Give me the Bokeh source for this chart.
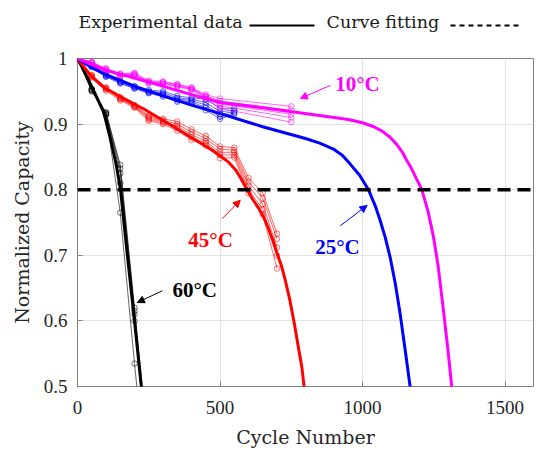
from bokeh.plotting import figure
from bokeh.layouts import column
from bokeh.models import Range1d, FixedTicker, Span, Label, Arrow, NormalHead
from bokeh.embed import file_html
from bokeh.resources import INLINE

# ---------------- data ----------------
# experimental cells, 10 C
cyc_10 = [0, 50, 100, 150, 200, 250, 300, 350, 400, 450, 500, 750]
cells_10 = [
    [1, .995, .985, .977, .978, .966, .965, .961, .956, .945, .939, .927],
    [1, .994, .984, .976, .977, .965, .964, .960, .955, .943, .935, .921],
    [1, .994, .983, .975, .976, .964, .963, .959, .954, .942, .931, .915],
    [1, .993, .982, .974, .975, .963, .962, .958, .953, .941, .928, .910],
    [1, .993, .981, .973, .974, .962, .961, .957, .952, .939, .924, .903],
]
# 25 C
cyc_25 = [0, 50, 100, 150, 200, 250, 300, 350, 400, 450, 500, 550]
cells_25 = [
    [1, .990, .976, .966, .958, .952, .950, .943, .940, .938, .924, .924],
    [1, .989, .975, .965, .957, .950, .948, .940, .938, .933, .919, .921],
    [1, .989, .974, .964, .956, .949, .946, .938, .936, .929, .915, .919],
    [1, .988, .973, .963, .955, .948, .944, .936, .934, .925, .911, .917],
    [1, .987, .972, .962, .954, .947, .942, .934, .932, .921, .908, .915],
]
# 45 C
cyc_45 = [0, 50, 100, 150, 200, 250, 300, 350, 400, 450, 500, 550, 600, 650, 700]
cells_45 = [
    [1, .975, .956, .941, .929, .913, .908, .904, .892, .882, .866, .864, .818, .795, .733],
    [1, .974, .955, .940, .928, .911, .906, .900, .888, .878, .862, .860, .812, .787, .725],
    [1, .973, .954, .939, .927, .909, .904, .897, .884, .874, .857, .857, .806, .778, .712],
    [1, .972, .953, .938, .926, .907, .902, .894, .880, .871, .853, .853, .800, .770, .700],
    [1, .971, .951, .936, .925, .905, .900, .890, .876, .867, .848, .849, .795, .762, .680],
]
# 60 C
cyc_60 = [0, 50, 100, 150, 200, 250]
cells_60 = [
    [1, .954, .918, .838, .620, .40],
    [1, .953, .917, .832, .615, .39],
    [1, .952, .916, .825, .610, .38],
    [1, .951, .915, .810, .600, .37],
    [1, .950, .914, .765, .535, .32],
]

# fitted curves
fit10_x = [0, 92, 250, 400, 501, 650, 817, 900, 950, 1000, 1040, 1070, 1097, 1120, 1140,
           1155, 1170, 1190, 1208, 1230, 1249, 1265, 1284, 1300, 1313, 1325]
fit10_y = [1.0, .983, .964, .945, .933, .925, .915, .910, .907, .902, .896, .889, .880, .869, .857,
           .845, .834, .816, .800, .767, .728, .685, .616, .555, .500, .45]
fit25_x = [0, 50, 92, 200, 300, 400, 501, 650, 800, 850, 898, 930, 957, 990, 1021, 1045,
           1062, 1080, 1097, 1115, 1132, 1150, 1167, 1180]
fit25_y = [1.0, .986, .977, .958, .943, .929, .916, .896, .878, .871, .862, .852, .839, .822, .800, .775,
           .753, .727, .697, .657, .611, .555, .500, .45]
fit45_x = [0, 46, 92, 150, 233, 349, 466, 500, 530, 555, 575, 595, 615, 635, 653, 670, 685,
           700, 715, 729, 745, 760, 775, 787, 795, 805]
fit45_y = [1.0, .974, .956, .942, .923, .893, .862, .852, .842, .830, .816, .800, .785, .772, .758, .741, .723,
           .703, .685, .662, .632, .598, .560, .530, .500, .465]
fit60_x = [0, 30, 60, 92, 116, 135, 151, 175, 200, 224, 236]
fit60_y = [1.0, .975, .948, .918, .877, .840, .800, .700, .600, .500, .45]

threshold = 0.8
x_ticks = [0, 500, 1000, 1500]
y_ticks = [0.5, 0.6, 0.7, 0.8, 0.9, 1.0]
y_tick_labels = ["0.5", "0.6", "0.7", "0.8", "0.9", "1"]

MAG, BLU, RED, BLK = "#ff00ff", "#0000ff", "#ff0000", "#000000"

# ---------------- header strip (legend text) ----------------
# its frame spans page pixels 77..533 horizontally and 0..40 vertically
top = figure(width=550, height=40, output_backend="svg", toolbar_location=None,
             x_range=Range1d(77, 533), y_range=Range1d(40, 0),
             x_axis_type=None, y_axis_type=None,
             min_border_left=77, min_border_right=17, min_border_top=0, min_border_bottom=0)
top.outline_line_color = None
top.background_fill_color = "white"
top.border_fill_color = "white"
top.add_layout(Label(x=78, y=21, text="Experimental data", text_font="DejaVu Serif",
                     text_font_size="17.5px", text_color="#1a1a1a", text_baseline="middle"))
top.add_layout(Arrow(x_start=249, y_start=25, x_end=314, y_end=25, end=None,
                     line_color="black", line_width=2))
top.add_layout(Label(x=326, y=21, text="Curve fitting", text_font="DejaVu Serif",
                     text_font_size="17.5px", text_color="#1a1a1a", text_baseline="middle"))
top.add_layout(Arrow(x_start=450, y_start=25, x_end=521, y_end=25, end=None,
                     line_color="black", line_width=2, line_dash="5 4"))

# ---------------- main figure ----------------
p = figure(width=550, height=410, output_backend="svg", toolbar_location=None,
           x_range=Range1d(0, 1600), y_range=Range1d(0.5, 1.0),
           min_border_left=77, min_border_top=18, min_border_right=17, min_border_bottom=64)
p.background_fill_color = "white"
p.border_fill_color = "white"
p.outline_line_color = "#808080"
p.outline_line_width = 1

p.xaxis.ticker = FixedTicker(ticks=x_ticks)
p.yaxis.ticker = FixedTicker(ticks=y_ticks)
p.yaxis.major_label_overrides = {t: s for t, s in zip(y_ticks, y_tick_labels)}
p.xgrid.ticker = FixedTicker(ticks=x_ticks)
p.ygrid.ticker = FixedTicker(ticks=y_ticks)
p.grid.grid_line_color = "#e3e3e3"
p.grid.grid_line_width = 1

for ax in (p.xaxis, p.yaxis):
    ax.axis_line_color = None
    ax.major_tick_in = 5
    ax.major_tick_out = 0
    ax.minor_tick_line_color = None
    ax.major_tick_line_color = "#808080"
    ax.major_label_text_font = "Liberation Serif"
    ax.major_label_text_font_size = "19px"
    ax.major_label_text_color = "#262626"
    ax.axis_label_text_font = "DejaVu Serif"
    ax.axis_label_text_font_size = "19px"
    ax.axis_label_text_font_style = "normal"
    ax.axis_label_text_color = "#262626"
p.xaxis.major_label_standoff = 14
p.yaxis.major_label_standoff = 10
p.xaxis.axis_label = "Cycle Number"
p.yaxis.axis_label = "Normalized Capacity"
p.xaxis.axis_label_standoff = 9
p.yaxis.axis_label_standoff = 8

# experimental data
for cyc, cells, col in ((cyc_60, cells_60, BLK), (cyc_45, cells_45, RED),
                        (cyc_25, cells_25, BLU), (cyc_10, cells_10, MAG)):
    for cell in cells:
        p.line(cyc, cell, line_color=col, line_width=1, line_alpha=0.6)
        p.scatter(cyc, cell, marker="circle", size=5.5, line_color=col, line_alpha=0.7,
                  fill_color=None, line_width=0.8)

# fitted curves
for fx, fy, col in ((fit60_x, fit60_y, BLK), (fit45_x, fit45_y, RED),
                    (fit25_x, fit25_y, BLU), (fit10_x, fit10_y, MAG)):
    p.line(fx, fy, line_color=col, line_width=3, line_join="round")

p.add_layout(Span(location=threshold, dimension="width", line_color="black",
                  line_width=3.5, line_dash="13 7"))

# temperature annotations
annots = [
    ("10°C", MAG, 904, 0.961, 887, 0.959, 782, 0.939),
    ("25°C", BLU, 834, 0.713, 922, 0.745, 1016, 0.776),
    ("45°C", RED, 389, 0.723, 508, 0.756, 571, 0.784),
    ("60°C", BLK, 333, 0.647, 298, 0.646, 210, 0.628),
]
for txt, col, tx, ty, ax0, ay0, ax1, ay1 in annots:
    p.add_layout(Label(x=tx, y=ty, text=txt, text_color=col, text_font="Liberation Serif",
                       text_font_size="21px", text_font_style="bold", text_baseline="middle"))
    p.add_layout(Arrow(x_start=ax0, y_start=ay0, x_end=ax1, y_end=ay1, line_color=col,
                       line_width=1,
                       end=NormalHead(size=7, fill_color=col, line_color=col, line_width=1)))

layout = column(top, p, spacing=0)
open("out.html", "w").write(file_html(layout, INLINE))
